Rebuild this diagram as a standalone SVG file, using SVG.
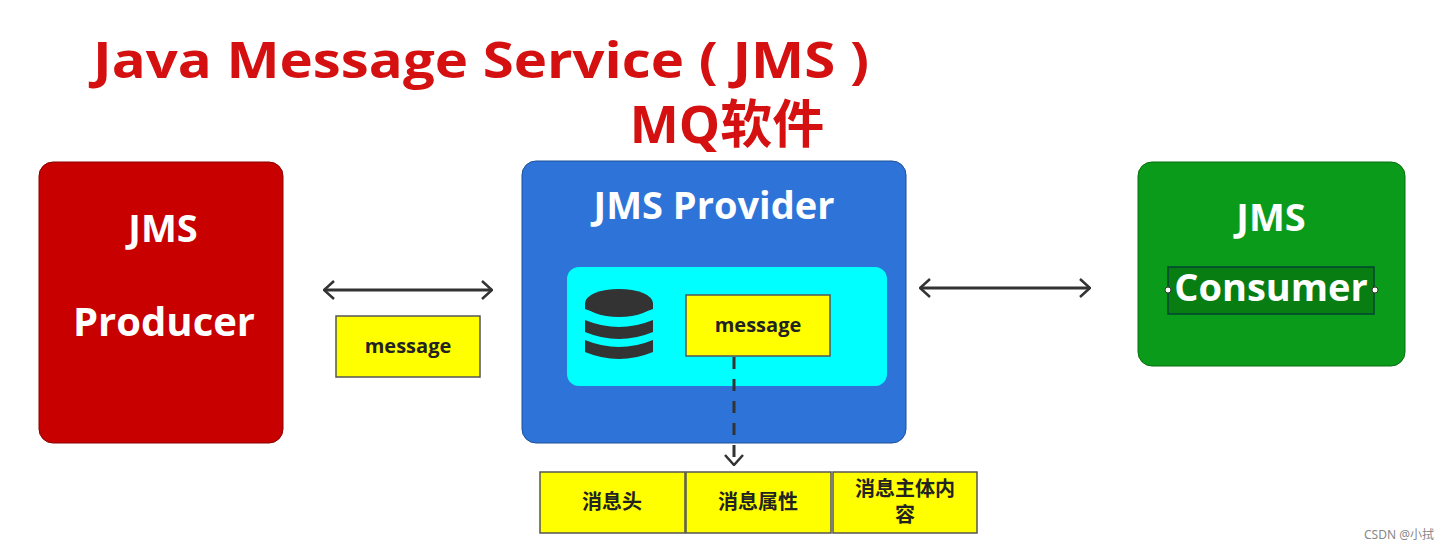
<svg xmlns="http://www.w3.org/2000/svg" width="1449" height="550" viewBox="0 0 1449 550">
<style>
.t{font-family:"Open Sans","Noto Sans","Noto Sans CJK SC",sans-serif;font-weight:bold}
.w{fill:#fff;text-anchor:middle}
.y{fill:#ffff00;stroke:#555;stroke-width:1.5}
.k{fill:#222;text-anchor:middle}
.c{fill:none;stroke:#333;stroke-width:3}
</style>
<defs>
<marker id="a" viewBox="0 0 12 20" refX="11" refY="10" markerWidth="12" markerHeight="20" markerUnits="userSpaceOnUse" orient="auto-start-reverse"><path d="M1 1 L11 10 L1 19" fill="none" stroke="#333" stroke-width="2.5"/></marker>
</defs>
<rect width="1449" height="550" fill="#fff"/>
<text class="t" x="481" y="78" font-size="50" fill="#d41010" text-anchor="middle" textLength="776" lengthAdjust="spacingAndGlyphs">Java Message Service ( JMS )</text>
<text class="t" x="727" y="143" font-size="52" fill="#d41010" text-anchor="middle">MQ软件</text>
<g id="producer"><rect x="39" y="162" width="244" height="281" rx="14" fill="#c80000" stroke="#8a0000"/>
<text class="t w" x="163" y="242" font-size="38">JMS</text><text class="t w" x="164" y="336" font-size="40">Producer</text></g>
<g id="msg1"><rect class="y" x="336" y="316" width="144" height="61"/><text class="t k" x="408" y="353" font-size="20">message</text></g>
<g id="provider"><rect x="522" y="161" width="384" height="282" rx="14" fill="#2e74d8" stroke="#1d4e9a"/>
<text class="t w" x="714" y="219" font-size="38">JMS Provider</text>
<rect x="567" y="267" width="320" height="119" rx="12" fill="#00ffff"/>
<g fill="#333"><ellipse cx="619" cy="303" rx="34" ry="14"/><path d="M585 320 q34 14 68 0 v12 q-34 14 -68 0z"/><path d="M585 340 q34 14 68 0 v12 q-34 14 -68 0z"/><path d="M585 303 v6 q34 14 68 0 v-6 q-34 14 -68 0z"/></g>
<rect class="y" x="686" y="295" width="144" height="61"/><text class="t k" x="758" y="332" font-size="20">message</text></g>
<g id="consumer"><rect x="1138" y="162" width="267" height="204" rx="14" fill="#0a9b1a" stroke="#06700f"/>
<text class="t w" x="1271" y="231" font-size="38">JMS</text>
<rect x="1168" y="267" width="206" height="47" fill="#087d12" stroke="#043" stroke-width="1.5"/>
<text class="t w" x="1271" y="301" font-size="38">Consumer</text>
<circle cx="1168" cy="290" r="3" fill="#fff" stroke="#333"/><circle cx="1375" cy="290" r="3" fill="#fff" stroke="#333"/></g>
<g id="h1"><rect class="y" x="540" y="472" width="145" height="61"/><text class="t k" x="612" y="509" font-size="20">消息头</text></g>
<g id="h2"><rect class="y" x="686" y="472" width="145" height="61"/><text class="t k" x="758" y="509" font-size="20">消息属性</text></g>
<g id="h3"><rect class="y" x="833" y="472" width="144" height="61"/><text class="t k" x="905" y="496" font-size="20">消息主体内</text><text class="t k" x="905" y="522" font-size="20">容</text></g>
<g id="connectors">
<line class="c" x1="324" y1="290" x2="492" y2="290" marker-start="url(#a)" marker-end="url(#a)"/>
<line class="c" x1="920" y1="288" x2="1090" y2="288" marker-start="url(#a)" marker-end="url(#a)"/>
<line x1="734" y1="357" x2="734" y2="465" stroke="#333" stroke-width="3" stroke-dasharray="12 10" marker-end="url(#a)"/>
</g>
<text x="1434" y="539" font-family="Noto Sans,Noto Sans CJK SC,sans-serif" font-size="12" fill="#888" text-anchor="end">CSDN @小拭</text>
</svg>
